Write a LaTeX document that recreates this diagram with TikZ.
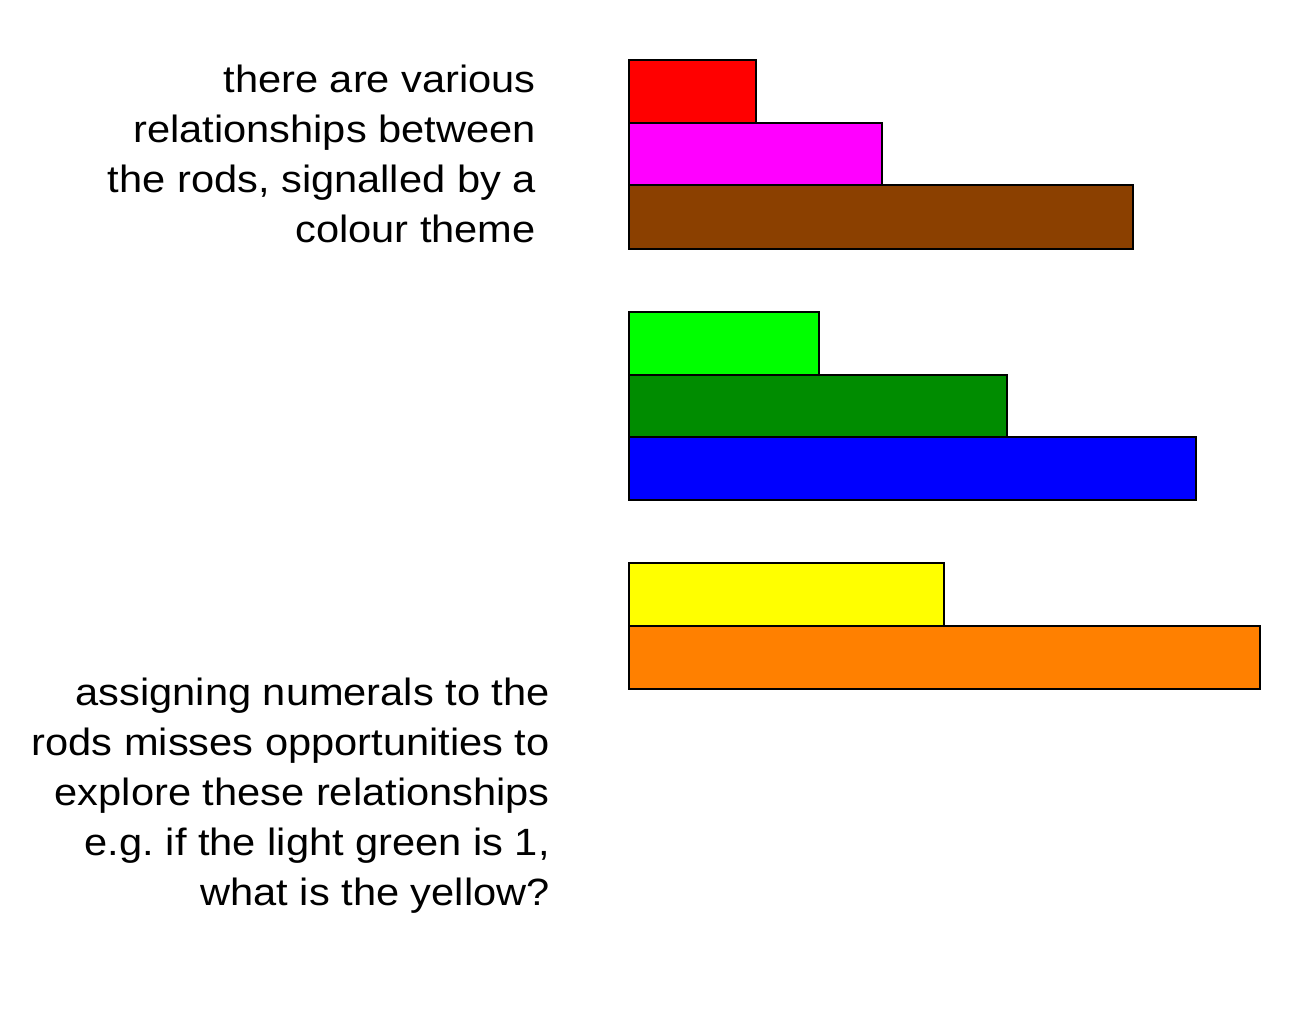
\documentclass[tikz,border=0pt]{standalone}
\usepackage{fontspec}
\setmainfont{Liberation Sans}
\frenchspacing
\definecolor{rodred}{RGB}{255,0,0}
\definecolor{rodmagenta}{RGB}{255,0,255}
\definecolor{rodbrown}{RGB}{139,64,0}
\definecolor{rodlgreen}{RGB}{0,255,0}
\definecolor{roddgreen}{RGB}{0,140,0}
\definecolor{rodblue}{RGB}{0,0,255}
\definecolor{rodyellow}{RGB}{255,255,0}
\definecolor{rodorange}{RGB}{255,128,0}
\begin{document}
\begin{tikzpicture}[x=1pt,y=-1pt,
  rod/.style={draw=black,line width=2pt},
  caption/.style={align=right,inner sep=0pt,xscale=1.095,transform shape,
    font=\fontsize{38}{50}\selectfont}]
\useasboundingbox (0,0) rectangle (1304,1016);
\fill[white] (0,0) rectangle (1304,1016);
% rods
\draw[rod,fill=rodred]     (629,60)  rectangle (756,123);
\draw[rod,fill=rodmagenta] (629,123) rectangle (882,185);
\draw[rod,fill=rodbrown]   (629,185) rectangle (1133,249);
\draw[rod,fill=rodlgreen]  (629,312) rectangle (819,375);
\draw[rod,fill=roddgreen]  (629,375) rectangle (1007,437);
\draw[rod,fill=rodblue]    (629,437) rectangle (1196,500);
\draw[rod,fill=rodyellow]  (629,563) rectangle (944,626);
\draw[rod,fill=rodorange]  (629,626) rectangle (1260,689);
% captions
\node[caption,anchor=north east] (t1) at (536,65)
  {there are various\\relationships between\\the rods, signalled by a\\colour theme};
\node[caption,anchor=north east] (t2) at (550,678)
  {assigning numerals to the\\rods misses opportunities to\\explore these relationships\\e.g. if the light green is 1,\\what is the yellow?};
\end{tikzpicture}
\end{document}
